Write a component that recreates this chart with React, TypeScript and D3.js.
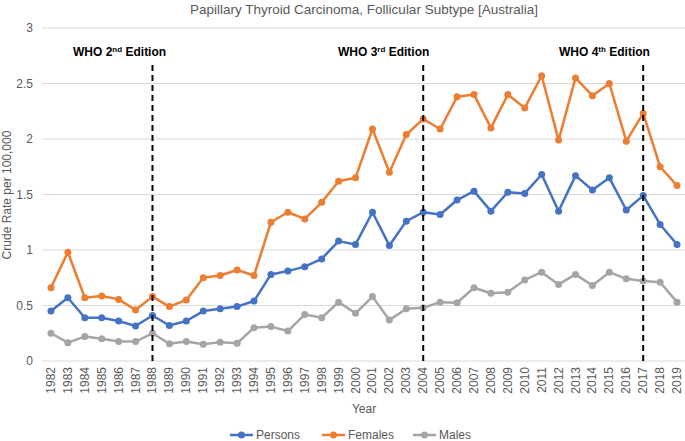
import React, { useEffect, useRef } from 'react';
import * as d3 from 'd3';

const years = d3.range(1982, 2020).map(String);

const persons = [
  0.45, 0.57, 0.39, 0.39, 0.36, 0.315, 0.41, 0.32, 0.36, 0.45, 0.47, 0.49, 0.54,
  0.78, 0.81, 0.85, 0.92, 1.08, 1.05, 1.34, 1.04, 1.26, 1.34, 1.32, 1.45, 1.53,
  1.35, 1.52, 1.51, 1.68, 1.35, 1.67, 1.54, 1.65, 1.36, 1.49, 1.23, 1.05,
];
const females = [
  0.66, 0.98, 0.57, 0.585, 0.555, 0.46, 0.58, 0.49, 0.55, 0.75, 0.77, 0.82, 0.77,
  1.25, 1.34, 1.28, 1.43, 1.62, 1.65, 2.09, 1.70, 2.04, 2.18, 2.09, 2.38, 2.40,
  2.10, 2.40, 2.28, 2.57, 1.99, 2.55, 2.39, 2.50, 1.98, 2.23, 1.75, 1.58,
];
const males = [
  0.25, 0.165, 0.22, 0.20, 0.175, 0.175, 0.25, 0.155, 0.175, 0.15, 0.17, 0.16, 0.30,
  0.31, 0.27, 0.42, 0.39, 0.53, 0.43, 0.58, 0.37, 0.47, 0.48, 0.53, 0.525, 0.66,
  0.61, 0.62, 0.73, 0.80, 0.69, 0.78, 0.68, 0.80, 0.74, 0.72, 0.71, 0.53,
];

const seriesNames = ['Persons', 'Females', 'Males'];
const seriesColors = ['#4472C4', '#ED7D31', '#A5A5A5'];
const yTicks = [0, 0.5, 1, 1.5, 2, 2.5, 3];

// WHO classification editions: year of the marker line, ordinal, suffix
const editions: [string, string, string][] = [
  ['1988', '2', 'nd'],
  ['2004', '3', 'rd'],
  ['2017', '4', 'th'],
];

const W = 685;
const H = 441;
const FONT = '"Liberation Sans", Arial, sans-serif';

const App: React.FC = () => {
  const svgRef = useRef<SVGSVGElement>(null);

  useEffect(() => {
    if (!svgRef.current) return;
    const svg = d3.select(svgRef.current);
    svg.selectAll('*').remove();

    const x = d3.scalePoint<string>().domain(years).range([42.5, 685.5]).padding(0.5);
    const y = d3.scaleLinear().domain([0, 3]).range([361, 28]);

    // title
    svg.append('text')
      .attr('x', 364)
      .attr('y', 14)
      .attr('text-anchor', 'middle')
      .attr('font-size', 13.5)
      .attr('fill', '#595959')
      .text('Papillary Thyroid Carcinoma, Follicular Subtype [Australia]');

    // gridlines + y tick labels
    const grid = svg.append('g');
    yTicks.forEach(t => {
      grid.append('line')
        .attr('x1', 42.5).attr('x2', 685.5)
        .attr('y1', y(t)).attr('y2', y(t))
        .attr('stroke', '#D9D9D9')
        .attr('stroke-width', 1);
      grid.append('text')
        .attr('x', 33)
        .attr('y', y(t) + 4)
        .attr('text-anchor', 'end')
        .attr('font-size', 12)
        .attr('fill', '#595959')
        .text(String(t));
    });

    // x tick labels, rotated
    const xl = svg.append('g');
    years.forEach(yr => {
      xl.append('text')
        .attr('transform', `translate(${(x(yr) as number) + 4},367) rotate(-90)`)
        .attr('text-anchor', 'end')
        .attr('font-size', 12)
        .attr('fill', '#595959')
        .text(yr);
    });

    // axis titles
    svg.append('text')
      .attr('x', 364).attr('y', 413)
      .attr('text-anchor', 'middle')
      .attr('font-size', 12)
      .attr('fill', '#595959')
      .text('Year');
    svg.append('text')
      .attr('transform', 'translate(11,195) rotate(-90)')
      .attr('text-anchor', 'middle')
      .attr('font-size', 12)
      .attr('fill', '#595959')
      .text('Crude Rate per 100,000');

    // series
    const data = [persons, females, males];
    const line = d3.line<number>()
      .x((_, i) => x(years[i]) as number)
      .y(d => y(d));
    [2, 1, 0].forEach(s => {
      const g = svg.append('g');
      g.append('path')
        .attr('d', line(data[s]))
        .attr('fill', 'none')
        .attr('stroke', seriesColors[s])
        .attr('stroke-width', 2.5)
        .attr('stroke-linejoin', 'round');
      g.selectAll('circle')
        .data(data[s])
        .enter()
        .append('circle')
        .attr('cx', (_, i) => x(years[i]) as number)
        .attr('cy', d => y(d))
        .attr('r', 3.5)
        .attr('fill', seriesColors[s]);
    });

    // edition markers
    const labelX: Record<string, number> = { '1988': 73, '2004': 338, '2017': 559 };
    editions.forEach(([yr, n, suf]) => {
      const cx = x(yr) as number;
      svg.append('line')
        .attr('x1', cx).attr('x2', cx)
        .attr('y1', 65).attr('y2', 361)
        .attr('stroke', '#000')
        .attr('stroke-width', 2)
        .attr('stroke-dasharray', '6,4');
      const t = svg.append('text')
        .attr('x', labelX[yr])
        .attr('y', 56)
        .attr('font-size', 12)
        .attr('font-weight', 'bold')
        .attr('fill', '#000');
      t.append('tspan').text(`WHO ${n}`);
      t.append('tspan').attr('dy', -4).attr('font-size', 8).text(suf);
      t.append('tspan').attr('dy', 4).text(' Edition');
    });

    // legend
    const legX = [230, 322, 413];
    seriesNames.forEach((name, i) => {
      const g = svg.append('g').attr('transform', `translate(${legX[i]},435)`);
      g.append('line')
        .attr('x1', 0).attr('x2', 23)
        .attr('stroke', seriesColors[i])
        .attr('stroke-width', 2.5);
      g.append('circle').attr('cx', 11.5).attr('r', 3.5).attr('fill', seriesColors[i]);
      g.append('text')
        .attr('x', 26).attr('y', 4)
        .attr('font-size', 12)
        .attr('fill', '#595959')
        .text(name);
    });
  }, []);

  return (
    <svg
      ref={svgRef}
      width={W}
      height={H}
      viewBox={`0 0 ${W} ${H}`}
      style={{ position: 'fixed', left: 0, top: 0, background: '#fff', fontFamily: FONT }}
    />
  );
};

export default App;
